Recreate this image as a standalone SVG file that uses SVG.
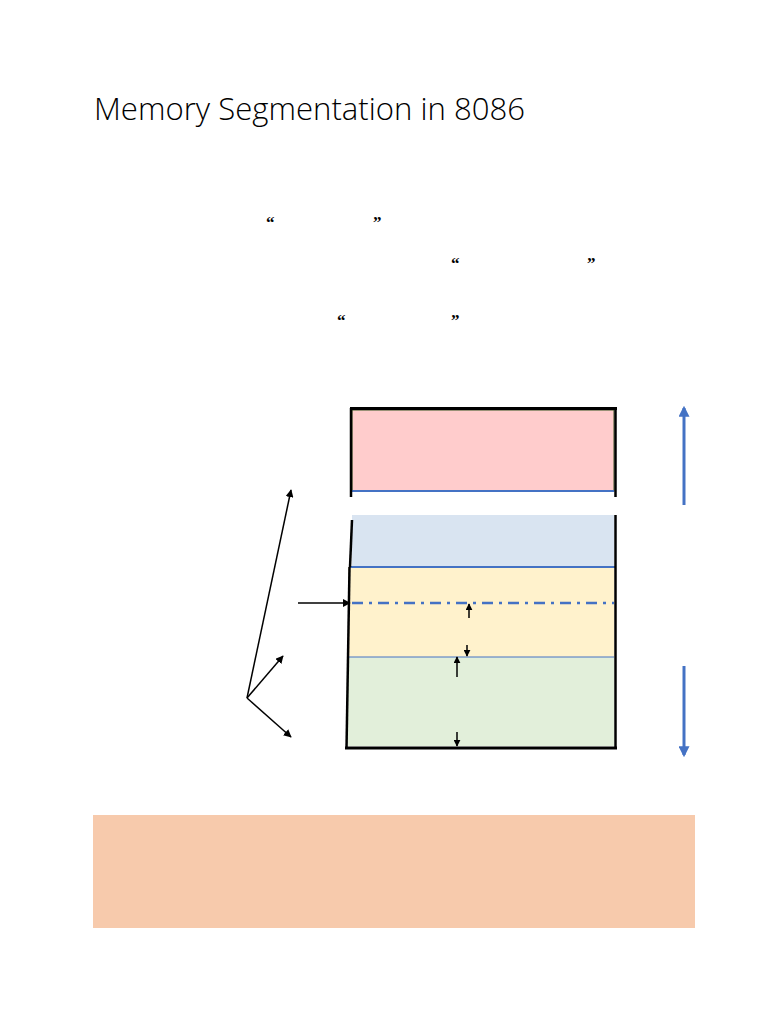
<svg xmlns="http://www.w3.org/2000/svg" width="768" height="1024" viewBox="0 0 768 1024">
<style>
.q{font-family:"Liberation Serif",serif;font-size:17px;font-weight:bold;fill:#000}
.blk{stroke:#000;fill:none}
.conn{stroke:#000;stroke-width:1.5;fill:none}
.blue{stroke:#4472C4;fill:none}
</style>
<defs>
<marker id="ah" viewBox="0 0 10 10" refX="9" refY="5" markerWidth="7" markerHeight="7" orient="auto" markerUnits="userSpaceOnUse">
<path d="M0,0 L10,5 L0,10 z" fill="#000"/>
</marker>
<marker id="ahs" viewBox="0 0 10 10" refX="9" refY="5" markerWidth="8" markerHeight="8" orient="auto" markerUnits="userSpaceOnUse">
<path d="M0,0 L10,5 L0,10 z" fill="#000"/>
</marker>
<marker id="ahb" viewBox="0 0 10 10" refX="8" refY="5" markerWidth="11" markerHeight="11" orient="auto" markerUnits="userSpaceOnUse">
<path d="M0,0 L10,5 L0,10 z" fill="#4472C4"/>
</marker>
</defs>
<rect width="768" height="1024" fill="#fff"/>
<text id="title" x="94" y="120" font-family="Open Sans, Liberation Sans, sans-serif" font-weight="300" font-size="31" fill="#000" textLength="431" lengthAdjust="spacingAndGlyphs">Memory Segmentation in 8086</text>
<g id="quotes">
<text class="q" x="266" y="228">“</text><text class="q" x="373" y="228">”</text>
<text class="q" x="451" y="269">“</text><text class="q" x="587" y="269">”</text>
<text class="q" x="337" y="326">“</text><text class="q" x="451" y="326">”</text>
</g>
<g id="seg-top">
<rect x="352" y="410" width="262" height="81" fill="#FFCCCC" stroke="#375623" stroke-width="1"/>
<line class="blue" x1="352" y1="491" x2="614" y2="491" stroke-width="2"/>
<line class="blk" x1="350" y1="408.5" x2="617" y2="408.5" stroke-width="3"/>
<line class="blk" x1="351" y1="408" x2="351" y2="497" stroke-width="2.5"/>
<line class="blk" x1="615.5" y1="408" x2="615.5" y2="497" stroke-width="2.5"/>
</g>
<g id="seg-blue">
<rect x="352" y="515" width="262" height="52" fill="#D9E4F1"/>
</g>
<g id="seg-yellow">
<rect x="348" y="567" width="266" height="90" fill="#FFF2CC"/>
<line class="blue" x1="352" y1="603" x2="614" y2="603" stroke-width="2.5" stroke-dasharray="11,6,3,6"/>
</g>
<g id="seg-green">
<rect x="348" y="657" width="266" height="89" fill="#E2EFDA"/>
<line class="blue" x1="348" y1="657" x2="614" y2="657" stroke-width="1"/>
</g>
<g id="frame">
<line class="blue" x1="350" y1="567" x2="615" y2="567" stroke-width="2"/>
<line class="blk" x1="352" y1="520" x2="350" y2="567" stroke-width="2.5"/>
<line class="blk" x1="349.5" y1="567" x2="346.5" y2="749" stroke-width="2.5"/>
<line class="blk" x1="345" y1="748" x2="617" y2="748" stroke-width="3"/>
<line class="blk" x1="615.5" y1="515" x2="615.5" y2="749" stroke-width="2.5"/>
</g>
<g id="bottom-box">
<rect x="93" y="815" width="602" height="113" fill="#F7CAAC"/>
</g>
<g id="connectors">
<line class="conn" x1="298" y1="603" x2="350" y2="603" marker-end="url(#ahs)"/>
<line class="conn" x1="247" y1="698" x2="291" y2="490" marker-end="url(#ahs)"/>
<line class="conn" x1="247" y1="698" x2="283" y2="656" marker-end="url(#ahs)"/>
<line class="conn" x1="247" y1="698" x2="291" y2="737" marker-end="url(#ahs)"/>
<line class="conn" x1="469" y1="618" x2="469" y2="604" marker-end="url(#ah)"/>
<line class="conn" x1="467" y1="645" x2="467" y2="656" marker-end="url(#ah)"/>
<line class="conn" x1="457" y1="677" x2="457" y2="657" marker-end="url(#ah)"/>
<line class="conn" x1="457" y1="732" x2="457" y2="746" marker-end="url(#ah)"/>
<line class="blue" x1="684" y1="505" x2="684" y2="408" stroke-width="3" marker-end="url(#ahb)"/>
<line class="blue" x1="684" y1="666" x2="684" y2="755" stroke-width="3" marker-end="url(#ahb)"/>
</g>
</svg>
